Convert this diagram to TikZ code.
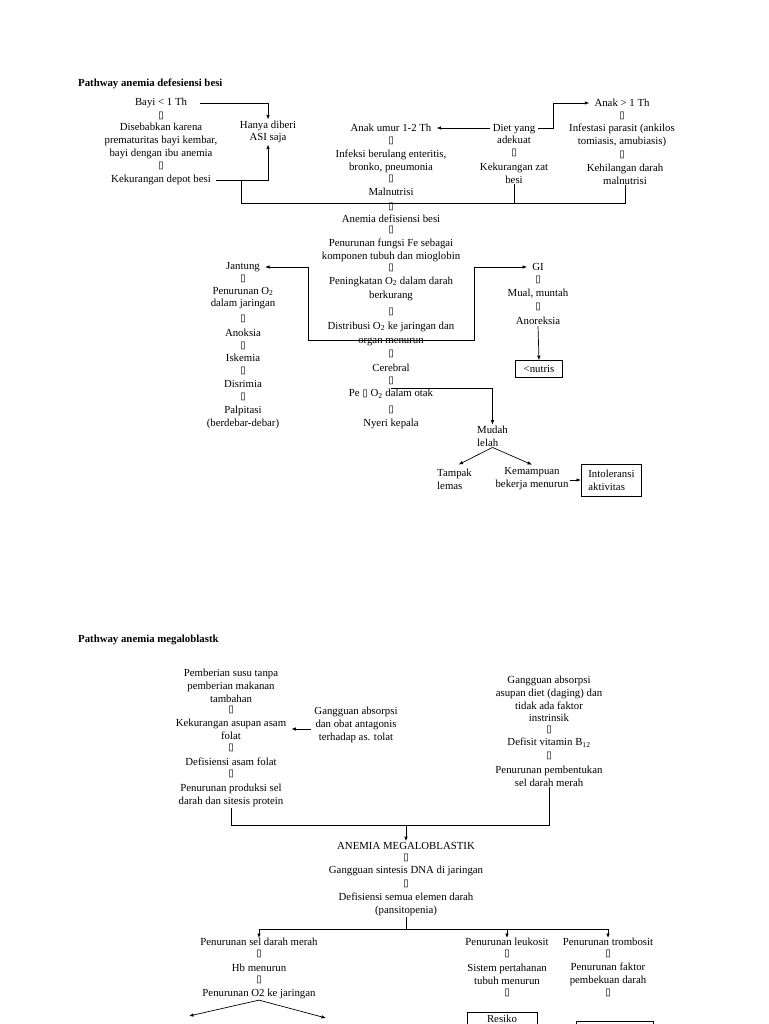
\documentclass[tikz,border=0pt]{standalone}
\usepackage{fontspec}
\setmainfont{Liberation Serif}
\newfontfamily\symfont{DejaVu Sans}
\usetikzlibrary{arrows.meta}
\newcommand{\bx}{{\symfont\fontsize{10}{10}\selectfont ▯}}
\newcommand{\sub}[1]{\textsubscript{#1}}

\begin{document}
\begin{tikzpicture}[x=1pt,y=-1pt,
    font=\fontsize{10.8}{12.8}\selectfont,
    txt/.style={align=center,inner sep=1pt},
    lft/.style={align=left,inner sep=1pt,anchor=west},
    mark box/.style={inner sep=0pt},
    framed/.style={draw,line width=0.7pt,align=left,inner xsep=7pt,inner ysep=3pt},
    conn/.style={line width=0.7pt},
    arr/.style={conn,-{Latex[length=4.5pt,width=3.5pt]}},
  ]
    \useasboundingbox (0,0) rectangle (768,1024);
    \clip (0,0) rectangle (768,1024);

    % ---------- pathway anemia defisiensi besi ----------
    \node[lft] (title1) at (77,84) {\textbf{Pathway anemia defesiensi besi}};

    \node[txt] (bayi) at (161,103) {Bayi < 1 Th};
    \node[txt] (sebab) at (161,141) {Disebabkan karena\\prematuritas bayi kembar,\\bayi dengan ibu anemia};
    \node[txt] (depot) at (161,180) {Kekurangan depot besi};
    \node[txt] (asi) at (268,132) {Hanya diberi\\ASI saja};

    \node[txt] (anak12) at (391,128) {Anak umur 1-2 Th};
    \node[txt] (infeksi) at (391,161) {Infeksi berulang enteritis,\\bronko, pneumonia};
    \node[txt] (malnutrisi) at (391,192) {Malnutrisi};
    \node[txt] (anemiafe) at (391,219) {Anemia defisiensi besi};
    \node[txt] (fungsi) at (391,250) {Penurunan fungsi Fe sebagai\\komponen tubuh dan mioglobin};
    \node[txt] (oturun) at (391,289) {Peningkatan O\sub{2} dalam darah\\[2pt]berkurang};
    \node[txt] (distribusi) at (391,334) {Distribusi O\sub{2} ke jaringan dan\\[2pt]organ menurun};
    \node[txt] (cerebral) at (391,368) {Cerebral};
    \node[txt] (peotak) at (391,394) {Pe \bx\ O\sub{2} dalam otak};
    \node[txt] (nyeri) at (391,424) {Nyeri kepala};

    \node[txt] (diet) at (514,134) {Diet yang\\adekuat};
    \node[txt] (zat) at (514,173) {Kekurangan zat\\besi};

    \node[txt] (anak1) at (622,103) {Anak > 1 Th};
    \node[txt] (parasit) at (622,135) {Infestasi parasit (ankilos\\tomiasis, amubiasis)};
    \node[txt] (hilang) at (625,174) {Kehilangan darah\\malnutrisi};

    \node[txt] (jantung) at (243,267) {Jantung};
    \node[txt] (jaringan) at (243,298) {Penurunan O\sub{2}\\dalam jaringan};
    \node[txt] (anoksia) at (243,333) {Anoksia};
    \node[txt] (iskemia) at (243,358) {Iskemia};
    \node[txt] (disrimia) at (243,384) {Disrimia};
    \node[txt] (palpitasi) at (243,417) {Palpitasi\\(berdebar-debar)};

    \node[txt] (gi) at (538,267) {GI};
    \node[txt] (mual) at (538,294) {Mual, muntah};
    \node[txt] (anoreksia) at (538,321) {Anoreksia};
    \node[draw,line width=0.7pt,minimum width=47pt,minimum height=17pt,inner sep=1pt] (nutris) at (539,369) {<nutris};

    \node[lft,align=left] (mudah) at (476,436) {Mudah\\lelah};
    \node[lft,align=left] (tampak) at (436,479) {Tampak\\lemas};
    \node[txt] (kemampuan) at (532,479) {Kemampuan\\bekerja menurun};
    \node[framed,anchor=west,minimum height=32pt] (intol) at (581,480) {Intoleransi\\aktivitas};

    % ---------- pathway anemia megaloblastik ----------
    \node[lft] (title2) at (77,640) {\textbf{Pathway anemia megaloblastk}};

    \node[txt] (susu) at (231,686) {Pemberian susu tanpa\\pemberian makanan\\tambahan};
    \node[txt] (asupan) at (231,729) {Kekurangan asupan asam\\folat};
    \node[txt] (defolat) at (231,762) {Defisiensi asam folat};
    \node[txt] (produksi) at (231,795) {Penurunan produksi sel\\darah dan sitesis protein};
    \node[txt] (absorpsia) at (356,725) {Gangguan absorpsi\\dan obat antagonis\\terhadap as. tolat};

    \node[txt] (absorpsib) at (549,699) {Gangguan absorpsi\\asupan diet (daging) dan\\tidak ada faktor\\instrinsik};
    \node[txt] (vitb) at (549,743) {Defisit vitamin B\sub{12}};
    \node[txt] (pembentukan) at (549,776) {Penurunan pembentukan\\sel darah merah};

    \node[txt] (megalo) at (406,846) {ANEMIA MEGALOBLASTIK};
    \node[txt] (sintesis) at (406,871) {Gangguan sintesis DNA di jaringan};
    \node[txt] (pansito) at (406,904) {Defisiensi semua elemen darah\\(pansitopenia)};

    \node[txt] (eritro) at (259,942) {Penurunan sel darah merah};
    \node[txt] (hb) at (259,968) {Hb menurun};
    \node[txt] (oksigen) at (259,994) {Penurunan O2 ke jaringan};
    \node[txt] (leuko) at (507,942) {Penurunan leukosit};
    \node[txt] (imun) at (507,974) {Sistem pertahanan\\tubuh menurun};
    \node[txt] (trombo) at (608,942) {Penurunan trombosit};
    \node[txt] (bekuan) at (608,974) {Penurunan faktor\\pembekuan darah};
    \node[draw,line width=0.7pt,anchor=north,minimum width=70pt,text height=7pt,text depth=18pt,inner sep=3pt] (resiko) at (502,1012) {Resiko};
    \node[draw,line width=0.7pt,anchor=north west,minimum width=77pt,minimum height=20pt] (kotak) at (576,1021) {};

    % the little boxes between the steps
    \foreach \n/\x/\y in {m1/161/116, m2/161/166, m3/391/141, m4/391/179, m5/391/207,
        m6/391/230, m7/391/268, m8/391/312, m9/391/354, m10/391/381, m11/391/410,
        m12/514/153, m13/622/116, m14/622/155, m15/243/279, m16/243/319, m17/243/346,
        m18/243/371, m19/243/397, m20/538/280, m21/538/307,
        m22/231/710, m23/231/748, m24/231/774, m25/549/730, m26/549/756,
        m27/406/858, m28/406/884, m29/259/954, m30/259/980, m31/507/954,
        m32/507/993, m33/608/954, m34/608/993}
      \node[mark box] (\n) at (\x,\y) {\bx};

    % connectors, upper pathway
    \coordinate (barl) at (241,203);
    \draw[arr] ([xshift=12pt]bayi.east) -| (asi.north);
    \draw[arr] ([xshift=4pt]depot.east) -| (asi.south);
    \draw[conn] (barl |- depot.east) -- (barl);
    \draw[conn] (hilang.south) |- (barl);
    \draw[conn] (zat.south) -- (zat.south |- barl);
    \draw[arr] ([xshift=-2pt]diet.west |- anak12.east) -- ([xshift=4pt]anak12.east);
    \draw[arr] ([xshift=2pt]diet.east |- anak12.east) -- ++(15,0) |- ([xshift=-4pt]anak1.west);

    \coordinate (ul) at (308,340);
    \coordinate (ur) at (474,340);
    \draw[arr] (ul) |- ([xshift=4pt]jantung.east);
    \draw[arr] (ul) -- (ur) |- ([xshift=-4pt]gi.west);
    \draw[arr] (anoreksia.south) -- (nutris.north);

    \draw[arr] (peotak.north) -| (mudah.north);
    \draw[arr] (mudah.south) -- ([xshift=4pt,yshift=3pt]tampak.north);
    \draw[arr] (mudah.south) -- ([yshift=2pt]kemampuan.north);
    \draw[arr] (kemampuan.east |- intol.west) -- (intol.west);

    % connectors, lower pathway
    \draw[arr] ([xshift=-2pt]absorpsia.west |- asupan.east) -- ([xshift=4pt]asupan.east);
    \coordinate (brm) at (406,825);
    \coordinate (tbar) at (406,929);
    \draw[conn] (produksi.south) |- (brm) -| (pembentukan.south);
    \draw[arr] (brm) -- (megalo.north);
    \draw[conn] (pansito.south) -- (tbar);
    \draw[arr] (tbar) -| ([yshift=-1pt]eritro.north);
    \draw[arr] (tbar) -| ([yshift=-1pt]trombo.north);
    \draw[arr] (leuko.north |- tbar) -- ([yshift=-1pt]leuko.north);

    \coordinate (outl) at (189,1016);
    \coordinate (outr) at (326,1018);
    \draw[arr] (oksigen.south) -- (outl);
    \draw[arr] (oksigen.south) -- (outr);

\end{tikzpicture}
\end{document}
